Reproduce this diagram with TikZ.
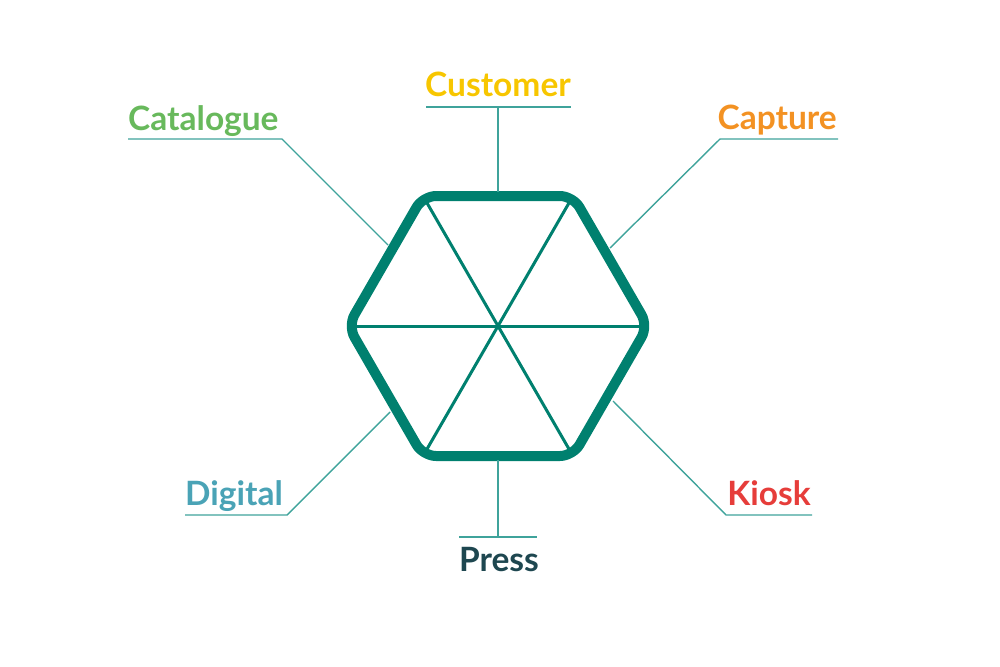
\documentclass[tikz,border=0pt]{standalone}
\usepackage{fontspec}
\setmainfont{Lato}
\definecolor{hexc}{HTML}{00806F}
\definecolor{leadc}{HTML}{3FA39B}
\definecolor{cgreen}{HTML}{68B95C}
\definecolor{cyellow}{HTML}{F7C600}
\definecolor{corange}{HTML}{F39223}
\definecolor{cred}{HTML}{E63D3A}
\definecolor{cblue}{HTML}{4AA3B6}
\definecolor{cdark}{HTML}{1E4750}
\begin{document}
\begin{tikzpicture}[x=1pt,y=-1pt,
  lbl/.style={inner sep=0pt,font=\fontsize{33.5}{36}\selectfont\bfseries},
  leader/.style={draw=leadc,line width=1.4pt},
  spoke/.style={draw=hexc,line width=3pt},
  hexline/.style={draw=hexc,line width=10pt,rounded corners=13pt,line join=round}]
\useasboundingbox (0,0) rectangle (1000,666);
% hexagon vertices
\coordinate (c) at (498,326);
\coordinate (v0) at (648,326);
\coordinate (v1) at (573,196);
\coordinate (v2) at (423,196);
\coordinate (v3) at (348,326);
\coordinate (v4) at (423,456);
\coordinate (v5) at (573,456);
\foreach \i in {0,...,5} \draw[spoke] (c) -- (v\i);
\draw[hexline] (v0) -- (v1) -- (v2) -- (v3) -- (v4) -- (v5) -- cycle;
% labels
\node[lbl,text=cgreen,anchor=base west] (cat) at (128,130) {Catalogue};
\node[lbl,text=cyellow,anchor=base] (cus) at (498,97) {Customer};
\node[lbl,text=corange,anchor=base east] (cap) at (837,129) {Capture};
\node[lbl,text=cblue,anchor=base west] (dig) at (185,505) {Digital};
\node[lbl,text=cred,anchor=base east] (kio) at (811,505) {Kiosk};
\node[lbl,text=cdark,anchor=base] (pre) at (499,571) {Press};
% leader coordinates
\coordinate (catA) at (128,139); \coordinate (catB) at (282,139); \coordinate (catC) at (388,245);
\coordinate (cusA) at (426,107); \coordinate (cusB) at (571,107); \coordinate (cusM) at (498,107); \coordinate (cusC) at (498,192);
\coordinate (capA) at (838,139); \coordinate (capB) at (720,139); \coordinate (capC) at (610,248);
\coordinate (digA) at (185,515); \coordinate (digB) at (287,515); \coordinate (digC) at (390,412);
\coordinate (kioA) at (812,515); \coordinate (kioB) at (726,515); \coordinate (kioC) at (613,401);
\coordinate (preA) at (459,537); \coordinate (preB) at (537,537); \coordinate (preM) at (498,537); \coordinate (preC) at (498,460);
\draw[leader] (catA) -- (catB) -- (catC);
\draw[leader] (cusA) -- (cusB); \draw[leader] (cusM) -- (cusC);
\draw[leader] (capA) -- (capB) -- (capC);
\draw[leader] (digA) -- (digB) -- (digC);
\draw[leader] (kioA) -- (kioB) -- (kioC);
\draw[leader] (preA) -- (preB); \draw[leader] (preM) -- (preC);
\end{tikzpicture}
\end{document}
